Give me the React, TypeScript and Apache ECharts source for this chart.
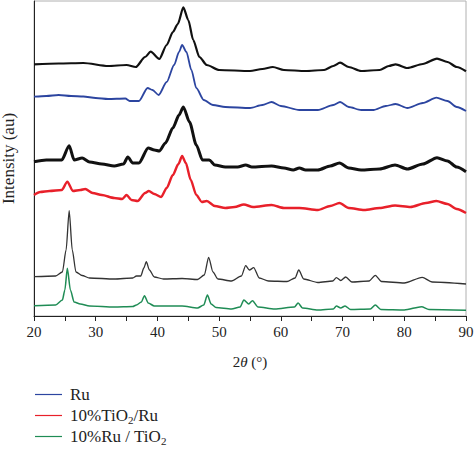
import React, { useEffect, useRef } from "react";
import * as echarts from "echarts";

// 2θ (deg) vs intensity (arbitrary units, traces stacked with offsets)
const topBlack: number[][] = [
  [20, 251.7], [24, 252.5], [28, 253], [32, 250], [35, 251], [36.5, 249], [38, 259], [38.9, 264.3],
  [40.3, 257], [41.5, 271], [42.5, 284], [43.3, 292], [44.2, 308.7], [45, 296], [45.8, 276],
  [46.8, 259], [48, 251], [50, 246], [55, 245], [57, 247], [58.7, 249], [60.5, 246], [64, 245],
  [67, 246], [68.5, 250], [69.6, 253.3], [71, 249], [73, 245], [76, 246], [77.5, 250], [78.6, 251.7],
  [80.5, 248], [83, 252], [85.3, 257.3], [87, 254], [88.5, 249], [90, 244.7],
];
const ruBlue: number[][] = [
  [20, 219.3], [22, 220], [24, 221], [26, 220], [28, 219.5], [30, 218], [32, 217], [34.8, 217.5],
  [35.5, 215], [37, 215], [38.4, 228], [39.2, 226], [40.2, 221], [41.5, 234], [42.7, 251], [43.5, 264],
  [44, 271], [44.7, 264], [45.5, 246], [46.3, 228], [47.5, 216], [49, 211], [51, 209], [55, 208],
  [57, 211], [58.5, 214], [60, 210], [63, 206], [66, 206], [68.5, 211], [69.6, 214], [71, 209],
  [73, 206], [75, 206], [77, 210], [78.6, 212], [80.5, 208], [83, 213], [85.2, 218.3], [87, 215],
  [88.5, 209], [90, 205],
];
const midBlack: number[][] = [
  [20, 154.3], [22, 156], [24.5, 156], [25.7, 170.3], [26.5, 156], [27.8, 158], [29, 154], [31, 152],
  [33, 150], [34.5, 152], [35.2, 159], [36, 153], [37, 153], [38.5, 168], [39.5, 166], [40.3, 165],
  [41.3, 173], [42.5, 188], [43.5, 201], [44.2, 209], [45.2, 194], [46.3, 171], [47.3, 156], [48.4, 156],
  [49.3, 151], [51, 149], [53, 149], [54.3, 151], [55.3, 149], [58.5, 150], [60.5, 148], [62, 146],
  [63, 148], [64, 146], [66, 146], [68, 150], [69.5, 153], [71, 148], [73, 146], [76, 147], [78.5, 151],
  [80.5, 147], [83, 152], [85.3, 158.3], [87, 155], [88.5, 149], [90, 144.3],
];
const tiO2RuRed: number[][] = [
  [20, 121], [21, 124], [22.5, 125], [24.5, 126], [25.4, 134.3], [26.3, 125], [27.5, 126], [28.3, 127],
  [29.5, 123], [31, 121], [33, 118], [34.3, 117], [35, 121], [35.8, 116], [36.8, 115], [38, 123],
  [38.6, 125], [39.5, 122], [40.6, 119], [41.5, 128], [42.5, 141], [43.4, 152], [44, 160], [44.6, 153],
  [45.4, 136], [46.3, 121], [47.2, 114], [48, 115], [49.3, 110], [51, 108], [52.5, 109], [54, 111.5],
  [55.5, 109], [58.5, 111], [60.5, 108], [63, 108], [66, 106], [68, 110], [69.5, 113], [71, 108],
  [73.5, 106], [76, 108], [78.5, 110.5], [81, 109], [83.5, 113], [85.2, 115], [87, 112], [88.5, 107],
  [90, 103],
];
const thinBlack: number[][] = [
  [20, 39.3], [23.5, 40], [24.6, 44], [25.2, 66], [25.7, 105.3], [26.2, 66], [26.8, 44], [27.8, 40.5],
  [29, 38], [33, 37], [36, 38], [36.6, 40], [37.3, 40], [37.8, 48], [38.2, 54.3], [38.7, 46], [39.5, 39],
  [41, 37], [44, 37.5], [46.5, 36.5], [47.6, 41], [48.3, 58.7], [49, 44], [49.8, 37], [52, 35],
  [53.6, 40], [54.3, 50.3], [54.9, 46], [55.6, 48.3], [56.5, 38], [58, 35], [61, 34.5], [62.3, 38],
  [62.9, 46], [63.7, 37], [66, 33.5], [68.4, 35], [69, 38.3], [69.7, 35.5], [70.5, 39], [71.5, 34],
  [74.3, 35], [75.3, 40.7], [76.3, 34.5], [80, 33], [82.9, 38.7], [84.5, 34], [90, 32],
];
const ruTiO2Green: number[][] = [
  [20, 10.3], [23.5, 11], [24.6, 16], [25, 26], [25.4, 47.7], [25.9, 26], [26.5, 14], [27.5, 12],
  [29, 10], [33, 9], [36, 9.5], [36.6, 11], [37.4, 14], [37.9, 20.3], [38.5, 13], [39.5, 10], [44, 10],
  [46.5, 8], [47.5, 11], [48.1, 21], [48.7, 12], [49.5, 8.5], [52, 7], [53.4, 9], [54, 16], [54.8, 12],
  [55.4, 15.3], [56.3, 9], [59, 7], [62.2, 9], [62.8, 13], [63.5, 8], [66, 6], [68.5, 7], [69, 10],
  [69.7, 8], [70.4, 10], [71.3, 6.5], [74.5, 7], [75.3, 11], [76.2, 6.5], [80, 6], [82.8, 9.3],
  [84, 6.5], [90, 5.7],
];
const legendNames = ["Ru", "10%TiO2/Ru", "10%Ru / TiO2"];

const serif = "'Liberation Serif', 'DejaVu Serif', serif";

export default function App() {
  const ref = useRef<HTMLDivElement>(null);
  useEffect(() => {
    if (!ref.current) return;
    const chart = echarts.init(ref.current, undefined, { renderer: "svg" });
    const line = (name: string, data: number[][], color: string, width: number) => ({
      type: "line",
      name,
      data,
      showSymbol: false,
      symbol: "none",
      smooth: 0.25,
      smoothMonotone: "x",
      lineStyle: { color, width },
      itemStyle: { color },
      z: 3,
    });
    chart.setOption({
      animation: false,
      backgroundColor: "#fff",
      grid: {
        left: 34, right: 8, top: 1, bottom: 135, show: true, borderColor: "#b0b0b0", borderWidth: 1,
        containLabel: false, outerBoundsMode: "none",
      },
      legend: {
        data: legendNames,
        orient: "vertical",
        left: 35,
        top: 385,
        padding: 0,
        icon: "rect",
        itemWidth: 27,
        itemHeight: 1.2,
        itemGap: 2,
        formatter: (n: string) => n.replace("TiO2", "TiO{sub|2}"),
        textStyle: {
          fontFamily: serif,
          fontSize: 17,
          color: "#222",
          lineHeight: 19,
          padding: [0, 0, 0, 3],
          rich: {
            sub: { fontFamily: serif, fontSize: 11, color: "#222", verticalAlign: "bottom", lineHeight: 19, padding: [7, 0, 0, 0] },
          },
        },
      },
      xAxis: {
        type: "value",
        min: 20,
        max: 90,
        interval: 5,
        name: "2{i|θ} (°)",
        nameLocation: "middle",
        nameGap: 38,
        nameTextStyle: {
          fontFamily: serif,
          fontSize: 15,
          color: "#222",
          rich: { i: { fontFamily: serif, fontSize: 15, fontStyle: "italic", color: "#222" } },
        },
        axisLine: { lineStyle: { color: "#222", width: 1 } },
        axisTick: { inside: false, length: 5, lineStyle: { color: "#222" } },
        axisLabel: {
          fontFamily: serif,
          fontSize: 15,
          color: "#222",
          margin: 8,
          formatter: (v: number) => (v % 10 === 0 ? String(v) : ""),
        },
        splitLine: { show: false },
      },
      yAxis: {
        type: "value",
        min: 0,
        max: 315,
        name: "Intensity (au)",
        nameLocation: "middle",
        nameGap: 17,
        nameTextStyle: { fontFamily: serif, fontSize: 17, color: "#222" },
        axisLine: { show: true, lineStyle: { color: "#222", width: 1 } },
        axisTick: { show: false },
        axisLabel: { show: false },
        splitLine: { show: false },
      },
      series: [
        line("Ru-A", topBlack, "#111111", 2.2),
        line("Ru", ruBlue, "#2c45a0", 1.8),
        line("Ru-B", midBlack, "#111111", 3),
        line("10%TiO2/Ru", tiO2RuRed, "#e8202a", 2.4),
        line("TiO2", thinBlack, "#333333", 1.3),
        line("10%Ru / TiO2", ruTiO2Green, "#1f8c55", 1.5),
      ],
    });
    return () => chart.dispose();
  }, []);
  return <div ref={ref} style={{ width: 474, height: 451, position: "absolute", left: 0, top: 0 }} />;
}
